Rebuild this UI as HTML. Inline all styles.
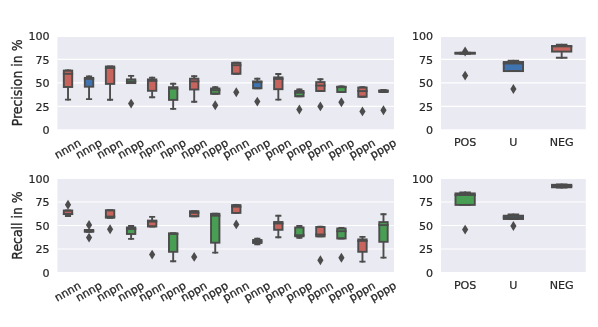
<!DOCTYPE html>
<html lang="en">
<head>
<meta charset="utf-8">
<title>Precision and Recall box plots</title>
<style>
html,body{margin:0;padding:0;background:#fff;}
body{width:598px;height:327px;overflow:hidden;}
svg{display:block;}
text{font-family:"DejaVu Sans","Liberation Sans",sans-serif;fill:#262626;stroke:#262626;stroke-width:0.2px;}
.r{stroke-width:0.3px;}
.t{font-size:11.11px;}
.l{font-size:12.5px;}
</style>
</head>
<body>
<svg width="598" height="327" viewBox="0 0 598 327">
<rect width="598" height="327" fill="#fff"/>
<g>
<rect x="57.5" y="36.5" width="336.5" height="93.4" fill="#EAEAF2"/>
<line x1="57.5" x2="394" y1="129.9" y2="129.9" stroke="#fff" stroke-width="1.11"/>
<text x="49.7" y="134.1" text-anchor="end" class="t">0</text>
<line x1="57.5" x2="394" y1="106.4" y2="106.4" stroke="#fff" stroke-width="1.11"/>
<text x="49.7" y="110.6" text-anchor="end" class="t">25</text>
<line x1="57.5" x2="394" y1="82.9" y2="82.9" stroke="#fff" stroke-width="1.11"/>
<text x="49.7" y="87.1" text-anchor="end" class="t">50</text>
<line x1="57.5" x2="394" y1="59.4" y2="59.4" stroke="#fff" stroke-width="1.11"/>
<text x="49.7" y="63.6" text-anchor="end" class="t">75</text>
<line x1="57.5" x2="394" y1="36.4" y2="36.4" stroke="#fff" stroke-width="1.11"/>
<text x="49.7" y="40.1" text-anchor="end" class="t">100</text>
<g fill="none" stroke="#4c4c4c" stroke-width="1.9" stroke-linecap="square"><path d="M68.02 70.6V70.4"/><path d="M68.02 87V99.6"/><rect x="63.81" y="70.6" width="8.41" height="16.4" fill="#c8645e" stroke-linejoin="miter"/><path d="M65.91 70.4H70.12M65.91 99.6H70.12"/><path d="M63.81 73.8H72.22"/></g>
<g fill="none" stroke="#4c4c4c" stroke-width="1.9" stroke-linecap="square"><path d="M89.05 77.9V76.4"/><path d="M89.05 86.7V99.1"/><rect x="84.84" y="77.9" width="8.41" height="8.8" fill="#3f74b0" stroke-linejoin="miter"/><path d="M86.94 76.4H91.15M86.94 99.1H91.15"/><path d="M84.84 78.9H93.25"/></g>
<g fill="none" stroke="#4c4c4c" stroke-width="1.9" stroke-linecap="square"><path d="M110.08 83.9V99.8"/><rect x="105.87" y="66.5" width="8.41" height="17.4" fill="#c8645e" stroke-linejoin="miter"/><path d="M107.97 66.5H112.18M107.97 99.8H112.18"/><path d="M105.87 68H114.28"/></g>
<g fill="none" stroke="#4c4c4c" stroke-width="1.9" stroke-linecap="square"><path d="M131.11 79.4V75.9"/><rect x="126.9" y="79.4" width="8.41" height="3.7" fill="#489e53" stroke-linejoin="miter"/><path d="M129.01 75.9H133.21M129.01 83.1H133.21"/><path d="M126.9 81.5H135.32"/></g>
<path d="M131.11 98.65L134.21 103.6L131.11 108.55L128.01 103.6Z" fill="#4c4c4c"/>
<g fill="none" stroke="#4c4c4c" stroke-width="1.9" stroke-linecap="square"><path d="M152.14 79.4V77.7"/><path d="M152.14 90.8V97.2"/><rect x="147.93" y="79.4" width="8.41" height="11.4" fill="#c8645e" stroke-linejoin="miter"/><path d="M150.04 77.7H154.24M150.04 97.2H154.24"/><path d="M147.93 80.9H156.35"/></g>
<g fill="none" stroke="#4c4c4c" stroke-width="1.9" stroke-linecap="square"><path d="M173.17 87.2V83.8"/><path d="M173.17 99.9V108.9"/><rect x="168.97" y="87.2" width="8.41" height="12.7" fill="#489e53" stroke-linejoin="miter"/><path d="M171.07 83.8H175.28M171.07 108.9H175.28"/><path d="M168.97 88.6H177.38"/></g>
<g fill="none" stroke="#4c4c4c" stroke-width="1.9" stroke-linecap="square"><path d="M194.2 78.7V76.2"/><path d="M194.2 89.5V101.8"/><rect x="190" y="78.7" width="8.41" height="10.8" fill="#c8645e" stroke-linejoin="miter"/><path d="M192.1 76.2H196.31M192.1 101.8H196.31"/><path d="M190 81.4H198.41"/></g>
<g fill="none" stroke="#4c4c4c" stroke-width="1.9" stroke-linecap="square"><path d="M215.23 88.5V87.1"/><rect x="211.03" y="88.5" width="8.41" height="5.3" fill="#489e53" stroke-linejoin="miter"/><path d="M213.13 87.1H217.34M213.13 93.8H217.34"/><path d="M211.03 90.2H219.44"/></g>
<path d="M215.23 100.25L218.33 105.2L215.23 110.15L212.13 105.2Z" fill="#4c4c4c"/>
<g fill="none" stroke="#4c4c4c" stroke-width="1.9" stroke-linecap="square"><rect x="232.06" y="62.8" width="8.41" height="11" fill="#c8645e" stroke-linejoin="miter"/><path d="M234.16 62.8H238.37M234.16 73.8H238.37"/><path d="M232.06 65.2H240.47"/></g>
<path d="M236.27 87.25L239.37 92.2L236.27 97.15L233.17 92.2Z" fill="#4c4c4c"/>
<g fill="none" stroke="#4c4c4c" stroke-width="1.9" stroke-linecap="square"><path d="M257.3 81.4V78.7"/><rect x="253.09" y="81.4" width="8.41" height="6.9" fill="#3f74b0" stroke-linejoin="miter"/><path d="M255.19 78.7H259.4M255.19 88.3H259.4"/><path d="M253.09 82.2H261.5"/></g>
<path d="M257.3 96.65L260.4 101.6L257.3 106.55L254.2 101.6Z" fill="#4c4c4c"/>
<g fill="none" stroke="#4c4c4c" stroke-width="1.9" stroke-linecap="square"><path d="M278.33 77.4V74.05"/><path d="M278.33 89.2V99.6"/><rect x="274.12" y="77.4" width="8.41" height="11.8" fill="#c8645e" stroke-linejoin="miter"/><path d="M276.23 74.05H280.43M276.23 99.6H280.43"/><path d="M274.12 78.9H282.53"/></g>
<g fill="none" stroke="#4c4c4c" stroke-width="1.9" stroke-linecap="square"><path d="M299.36 91V89.5"/><rect x="295.15" y="91" width="8.41" height="5.3" fill="#489e53" stroke-linejoin="miter"/><path d="M297.26 89.5H301.46M297.26 96.3H301.46"/><path d="M295.15 92.7H303.57"/></g>
<path d="M299.36 104.55L302.46 109.5L299.36 114.45L296.26 109.5Z" fill="#4c4c4c"/>
<g fill="none" stroke="#4c4c4c" stroke-width="1.9" stroke-linecap="square"><path d="M320.39 82.1V79.2"/><rect x="316.18" y="82.1" width="8.41" height="8.9" fill="#c8645e" stroke-linejoin="miter"/><path d="M318.29 79.2H322.49M318.29 91H322.49"/><path d="M316.18 85.6H324.6"/></g>
<path d="M320.39 101.45L323.49 106.4L320.39 111.35L317.29 106.4Z" fill="#4c4c4c"/>
<g fill="none" stroke="#4c4c4c" stroke-width="1.9" stroke-linecap="square"><path d="M341.42 86.7V86.4"/><rect x="337.22" y="86.7" width="8.41" height="5.3" fill="#489e53" stroke-linejoin="miter"/><path d="M339.32 86.4H343.52M339.32 92H343.52"/><path d="M337.22 87.2H345.63"/></g>
<path d="M341.42 97.35L344.52 102.3L341.42 107.25L338.32 102.3Z" fill="#4c4c4c"/>
<g fill="none" stroke="#4c4c4c" stroke-width="1.9" stroke-linecap="square"><path d="M362.45 87.5V87.2"/><rect x="358.25" y="87.5" width="8.41" height="9.3" fill="#c8645e" stroke-linejoin="miter"/><path d="M360.35 87.2H364.56M360.35 96.8H364.56"/><path d="M358.25 91.1H366.66"/></g>
<path d="M362.45 106.45L365.55 111.4L362.45 116.35L359.35 111.4Z" fill="#4c4c4c"/>
<g fill="none" stroke="#4c4c4c" stroke-width="1.9" stroke-linecap="square"><path d="M383.48 90.4V90"/><rect x="379.28" y="90.4" width="8.41" height="1.6" fill="#489e53" stroke-linejoin="miter"/><path d="M381.38 90H385.59M381.38 92H385.59"/><path d="M379.28 91H387.69"/></g>
<path d="M383.48 105.25L386.58 110.2L383.48 115.15L380.38 110.2Z" fill="#4c4c4c"/>
<text transform="translate(68.02,149.4) rotate(-30)" y="3.07" text-anchor="middle" class="t r">nnnn</text>
<text transform="translate(89.05,149.4) rotate(-30)" y="3.07" text-anchor="middle" class="t r">nnnp</text>
<text transform="translate(110.08,149.4) rotate(-30)" y="3.07" text-anchor="middle" class="t r">nnpn</text>
<text transform="translate(131.11,149.4) rotate(-30)" y="3.07" text-anchor="middle" class="t r">nnpp</text>
<text transform="translate(152.14,149.4) rotate(-30)" y="3.07" text-anchor="middle" class="t r">npnn</text>
<text transform="translate(173.17,149.4) rotate(-30)" y="3.07" text-anchor="middle" class="t r">npnp</text>
<text transform="translate(194.2,149.4) rotate(-30)" y="3.07" text-anchor="middle" class="t r">nppn</text>
<text transform="translate(215.23,149.4) rotate(-30)" y="3.07" text-anchor="middle" class="t r">nppp</text>
<text transform="translate(236.27,149.4) rotate(-30)" y="3.07" text-anchor="middle" class="t r">pnnn</text>
<text transform="translate(257.3,149.4) rotate(-30)" y="3.07" text-anchor="middle" class="t r">pnnp</text>
<text transform="translate(278.33,149.4) rotate(-30)" y="3.07" text-anchor="middle" class="t r">pnpn</text>
<text transform="translate(299.36,149.4) rotate(-30)" y="3.07" text-anchor="middle" class="t r">pnpp</text>
<text transform="translate(320.39,149.4) rotate(-30)" y="3.07" text-anchor="middle" class="t r">ppnn</text>
<text transform="translate(341.42,149.4) rotate(-30)" y="3.07" text-anchor="middle" class="t r">ppnp</text>
<text transform="translate(362.45,149.4) rotate(-30)" y="3.07" text-anchor="middle" class="t r">pppn</text>
<text transform="translate(383.48,149.4) rotate(-30)" y="3.07" text-anchor="middle" class="t r">pppp</text>
<text transform="translate(21.9,82.9) rotate(-90) scale(1,1.06)" text-anchor="middle" class="l r">Precision in %</text>
</g>
<g>
<rect x="441" y="36.5" width="144.8" height="93.4" fill="#EAEAF2"/>
<line x1="441" x2="585.8" y1="129.9" y2="129.9" stroke="#fff" stroke-width="1.11"/>
<text x="433.2" y="134.1" text-anchor="end" class="t">0</text>
<line x1="441" x2="585.8" y1="106.4" y2="106.4" stroke="#fff" stroke-width="1.11"/>
<text x="433.2" y="110.6" text-anchor="end" class="t">25</text>
<line x1="441" x2="585.8" y1="82.9" y2="82.9" stroke="#fff" stroke-width="1.11"/>
<text x="433.2" y="87.1" text-anchor="end" class="t">50</text>
<line x1="441" x2="585.8" y1="59.4" y2="59.4" stroke="#fff" stroke-width="1.11"/>
<text x="433.2" y="63.6" text-anchor="end" class="t">75</text>
<line x1="441" x2="585.8" y1="36.4" y2="36.4" stroke="#fff" stroke-width="1.11"/>
<text x="433.2" y="40.1" text-anchor="end" class="t">100</text>
<g fill="none" stroke="#4c4c4c" stroke-width="1.9" stroke-linecap="square"><rect x="455.48" y="52.7" width="19.31" height="1" fill="#489e53" stroke-linejoin="miter"/><path d="M460.31 52.7H469.96M460.31 53.7H469.96"/><path d="M455.48 53.2H474.79"/></g>
<path d="M465.13 46.55L468.23 51.5L465.13 56.45L462.03 51.5Z" fill="#4c4c4c"/>
<path d="M465.13 70.65L468.23 75.6L465.13 80.55L462.03 75.6Z" fill="#4c4c4c"/>
<g fill="none" stroke="#4c4c4c" stroke-width="1.9" stroke-linecap="square"><path d="M513.4 62V60.8"/><rect x="503.75" y="62" width="19.31" height="9.1" fill="#3f74b0" stroke-linejoin="miter"/><path d="M508.57 60.8H518.23M508.57 71.1H518.23"/><path d="M503.75 63.5H523.05"/></g>
<path d="M513.4 84.01L516.5 88.96L513.4 93.91L510.3 88.96Z" fill="#4c4c4c"/>
<g fill="none" stroke="#4c4c4c" stroke-width="1.9" stroke-linecap="square"><path d="M561.67 46V44.8"/><path d="M561.67 51.6V57.8"/><rect x="552.01" y="46" width="19.31" height="5.6" fill="#c8645e" stroke-linejoin="miter"/><path d="M556.84 44.8H566.49M556.84 57.8H566.49"/><path d="M552.01 46.4H571.32"/></g>
<text x="465.13" y="146.35" text-anchor="middle" class="t">POS</text>
<text x="513.4" y="146.35" text-anchor="middle" class="t">U</text>
<text x="561.67" y="146.35" text-anchor="middle" class="t">NEG</text>
</g>
<g>
<rect x="57.5" y="178.5" width="336.5" height="94" fill="#EAEAF2"/>
<line x1="57.5" x2="394" y1="272.5" y2="272.5" stroke="#fff" stroke-width="1.11"/>
<text x="49.7" y="276.5" text-anchor="end" class="t">0</text>
<line x1="57.5" x2="394" y1="249" y2="249" stroke="#fff" stroke-width="1.11"/>
<text x="49.7" y="253" text-anchor="end" class="t">25</text>
<line x1="57.5" x2="394" y1="225.5" y2="225.5" stroke="#fff" stroke-width="1.11"/>
<text x="49.7" y="229.5" text-anchor="end" class="t">50</text>
<line x1="57.5" x2="394" y1="202" y2="202" stroke="#fff" stroke-width="1.11"/>
<text x="49.7" y="206" text-anchor="end" class="t">75</text>
<line x1="57.5" x2="394" y1="178.5" y2="178.5" stroke="#fff" stroke-width="1.11"/>
<text x="49.7" y="182.5" text-anchor="end" class="t">100</text>
<g fill="none" stroke="#4c4c4c" stroke-width="1.9" stroke-linecap="square"><path d="M68.02 214.1V216"/><rect x="63.81" y="210.5" width="8.41" height="3.6" fill="#c8645e" stroke-linejoin="miter"/><path d="M65.91 210.5H70.12M65.91 216H70.12"/><path d="M63.81 213.9H72.22"/></g>
<path d="M68.02 199.75L71.12 204.7L68.02 209.65L64.92 204.7Z" fill="#4c4c4c"/>
<g fill="none" stroke="#4c4c4c" stroke-width="1.9" stroke-linecap="square"><rect x="84.84" y="230" width="8.41" height="1.8" fill="#3f74b0" stroke-linejoin="miter"/><path d="M86.94 230H91.15M86.94 231.8H91.15"/><path d="M84.84 230.9H93.25"/></g>
<path d="M89.05 220.05L92.15 225L89.05 229.95L85.95 225Z" fill="#4c4c4c"/>
<path d="M89.05 232.65L92.15 237.6L89.05 242.55L85.95 237.6Z" fill="#4c4c4c"/>
<g fill="none" stroke="#4c4c4c" stroke-width="1.9" stroke-linecap="square"><rect x="105.87" y="210.2" width="8.41" height="7.5" fill="#c8645e" stroke-linejoin="miter"/><path d="M107.97 210.2H112.18M107.97 217.7H112.18"/><path d="M105.87 216.6H114.28"/></g>
<path d="M110.08 224.35L113.18 229.3L110.08 234.25L106.98 229.3Z" fill="#4c4c4c"/>
<g fill="none" stroke="#4c4c4c" stroke-width="1.9" stroke-linecap="square"><path d="M131.11 227.5V226"/><path d="M131.11 234V238.9"/><rect x="126.9" y="227.5" width="8.41" height="6.5" fill="#489e53" stroke-linejoin="miter"/><path d="M129.01 226H133.21M129.01 238.9H133.21"/><path d="M126.9 229H135.32"/></g>
<g fill="none" stroke="#4c4c4c" stroke-width="1.9" stroke-linecap="square"><path d="M152.14 220.6V216.9"/><rect x="147.93" y="220.6" width="8.41" height="5.9" fill="#c8645e" stroke-linejoin="miter"/><path d="M150.04 216.9H154.24M150.04 226.5H154.24"/><path d="M147.93 221.6H156.35"/></g>
<path d="M152.14 249.65L155.24 254.6L152.14 259.55L149.04 254.6Z" fill="#4c4c4c"/>
<g fill="none" stroke="#4c4c4c" stroke-width="1.9" stroke-linecap="square"><path d="M173.17 251.8V261.2"/><rect x="168.97" y="233.3" width="8.41" height="18.5" fill="#489e53" stroke-linejoin="miter"/><path d="M171.07 233.3H175.28M171.07 261.2H175.28"/><path d="M168.97 234H177.38"/></g>
<g fill="none" stroke="#4c4c4c" stroke-width="1.9" stroke-linecap="square"><rect x="190" y="211.2" width="8.41" height="5.1" fill="#c8645e" stroke-linejoin="miter"/><path d="M192.1 211.2H196.31M192.1 216.3H196.31"/><path d="M190 212.8H198.41"/></g>
<path d="M194.2 251.95L197.3 256.9L194.2 261.85L191.1 256.9Z" fill="#4c4c4c"/>
<g fill="none" stroke="#4c4c4c" stroke-width="1.9" stroke-linecap="square"><path d="M215.23 242.7V252.6"/><rect x="211.03" y="213.8" width="8.41" height="28.9" fill="#489e53" stroke-linejoin="miter"/><path d="M213.13 213.8H217.34M213.13 252.6H217.34"/><path d="M211.03 215.7H219.44"/></g>
<g fill="none" stroke="#4c4c4c" stroke-width="1.9" stroke-linecap="square"><path d="M236.27 205.1V204.9"/><rect x="232.06" y="205.1" width="8.41" height="7.8" fill="#c8645e" stroke-linejoin="miter"/><path d="M234.16 204.9H238.37M234.16 212.9H238.37"/><path d="M232.06 206.7H240.47"/></g>
<path d="M236.27 219.45L239.37 224.4L236.27 229.35L233.17 224.4Z" fill="#4c4c4c"/>
<g fill="none" stroke="#4c4c4c" stroke-width="1.9" stroke-linecap="square"><path d="M257.3 240V238.7"/><path d="M257.3 243V244.2"/><rect x="253.09" y="240" width="8.41" height="3" fill="#3f74b0" stroke-linejoin="miter"/><path d="M255.19 238.7H259.4M255.19 244.2H259.4"/><path d="M253.09 241.5H261.5"/></g>
<g fill="none" stroke="#4c4c4c" stroke-width="1.9" stroke-linecap="square"><path d="M278.33 222V215.8"/><path d="M278.33 229.8V237.3"/><rect x="274.12" y="222" width="8.41" height="7.8" fill="#c8645e" stroke-linejoin="miter"/><path d="M276.23 215.8H280.43M276.23 237.3H280.43"/><path d="M274.12 223.5H282.53"/></g>
<g fill="none" stroke="#4c4c4c" stroke-width="1.9" stroke-linecap="square"><path d="M299.36 227.5V225.95"/><path d="M299.36 236.3V237.8"/><rect x="295.15" y="227.5" width="8.41" height="8.8" fill="#489e53" stroke-linejoin="miter"/><path d="M297.26 225.95H301.46M297.26 237.8H301.46"/><path d="M295.15 235.2H303.57"/></g>
<g fill="none" stroke="#4c4c4c" stroke-width="1.9" stroke-linecap="square"><path d="M320.39 227V226.8"/><rect x="316.18" y="227" width="8.41" height="9.4" fill="#c8645e" stroke-linejoin="miter"/><path d="M318.29 226.8H322.49M318.29 236.4H322.49"/><path d="M316.18 234.5H324.6"/></g>
<path d="M320.39 255.35L323.49 260.3L320.39 265.25L317.29 260.3Z" fill="#4c4c4c"/>
<g fill="none" stroke="#4c4c4c" stroke-width="1.9" stroke-linecap="square"><path d="M341.42 228.5V228"/><rect x="337.22" y="228.5" width="8.41" height="10" fill="#489e53" stroke-linejoin="miter"/><path d="M339.32 228H343.52M339.32 238.5H343.52"/><path d="M337.22 231.2H345.63"/></g>
<path d="M341.42 252.75L344.52 257.7L341.42 262.65L338.32 257.7Z" fill="#4c4c4c"/>
<g fill="none" stroke="#4c4c4c" stroke-width="1.9" stroke-linecap="square"><path d="M362.45 239.4V236.9"/><path d="M362.45 251.8V261.65"/><rect x="358.25" y="239.4" width="8.41" height="12.4" fill="#c8645e" stroke-linejoin="miter"/><path d="M360.35 236.9H364.56M360.35 261.65H364.56"/><path d="M358.25 240.9H366.66"/></g>
<g fill="none" stroke="#4c4c4c" stroke-width="1.9" stroke-linecap="square"><path d="M383.48 222.1V214.25"/><path d="M383.48 241.8V257.6"/><rect x="379.28" y="222.1" width="8.41" height="19.7" fill="#489e53" stroke-linejoin="miter"/><path d="M381.38 214.25H385.59M381.38 257.6H385.59"/><path d="M379.28 225.1H387.69"/></g>
<text transform="translate(68.02,292) rotate(-30)" y="3.07" text-anchor="middle" class="t r">nnnn</text>
<text transform="translate(89.05,292) rotate(-30)" y="3.07" text-anchor="middle" class="t r">nnnp</text>
<text transform="translate(110.08,292) rotate(-30)" y="3.07" text-anchor="middle" class="t r">nnpn</text>
<text transform="translate(131.11,292) rotate(-30)" y="3.07" text-anchor="middle" class="t r">nnpp</text>
<text transform="translate(152.14,292) rotate(-30)" y="3.07" text-anchor="middle" class="t r">npnn</text>
<text transform="translate(173.17,292) rotate(-30)" y="3.07" text-anchor="middle" class="t r">npnp</text>
<text transform="translate(194.2,292) rotate(-30)" y="3.07" text-anchor="middle" class="t r">nppn</text>
<text transform="translate(215.23,292) rotate(-30)" y="3.07" text-anchor="middle" class="t r">nppp</text>
<text transform="translate(236.27,292) rotate(-30)" y="3.07" text-anchor="middle" class="t r">pnnn</text>
<text transform="translate(257.3,292) rotate(-30)" y="3.07" text-anchor="middle" class="t r">pnnp</text>
<text transform="translate(278.33,292) rotate(-30)" y="3.07" text-anchor="middle" class="t r">pnpn</text>
<text transform="translate(299.36,292) rotate(-30)" y="3.07" text-anchor="middle" class="t r">pnpp</text>
<text transform="translate(320.39,292) rotate(-30)" y="3.07" text-anchor="middle" class="t r">ppnn</text>
<text transform="translate(341.42,292) rotate(-30)" y="3.07" text-anchor="middle" class="t r">ppnp</text>
<text transform="translate(362.45,292) rotate(-30)" y="3.07" text-anchor="middle" class="t r">pppn</text>
<text transform="translate(383.48,292) rotate(-30)" y="3.07" text-anchor="middle" class="t r">pppp</text>
<text transform="translate(21.9,225.5) rotate(-90) scale(1,1.06)" text-anchor="middle" class="l r">Recall in %</text>
</g>
<g>
<rect x="441" y="178.5" width="144.8" height="94" fill="#EAEAF2"/>
<line x1="441" x2="585.8" y1="272.5" y2="272.5" stroke="#fff" stroke-width="1.11"/>
<text x="433.2" y="276.5" text-anchor="end" class="t">0</text>
<line x1="441" x2="585.8" y1="249" y2="249" stroke="#fff" stroke-width="1.11"/>
<text x="433.2" y="253" text-anchor="end" class="t">25</text>
<line x1="441" x2="585.8" y1="225.5" y2="225.5" stroke="#fff" stroke-width="1.11"/>
<text x="433.2" y="229.5" text-anchor="end" class="t">50</text>
<line x1="441" x2="585.8" y1="202" y2="202" stroke="#fff" stroke-width="1.11"/>
<text x="433.2" y="206" text-anchor="end" class="t">75</text>
<line x1="441" x2="585.8" y1="178.5" y2="178.5" stroke="#fff" stroke-width="1.11"/>
<text x="433.2" y="182.5" text-anchor="end" class="t">100</text>
<g fill="none" stroke="#4c4c4c" stroke-width="1.9" stroke-linecap="square"><path d="M465.13 193.4V192.4"/><rect x="455.48" y="193.4" width="19.31" height="11.5" fill="#489e53" stroke-linejoin="miter"/><path d="M460.31 192.4H469.96M460.31 204.9H469.96"/><path d="M455.48 195H474.79"/></g>
<path d="M465.13 224.65L468.23 229.6L465.13 234.55L462.03 229.6Z" fill="#4c4c4c"/>
<g fill="none" stroke="#4c4c4c" stroke-width="1.9" stroke-linecap="square"><path d="M513.4 215.7V214.5"/><rect x="503.75" y="215.7" width="19.31" height="3.3" fill="#3f74b0" stroke-linejoin="miter"/><path d="M508.57 214.5H518.23M508.57 219H518.23"/><path d="M503.75 217.3H523.05"/></g>
<path d="M513.4 221.05L516.5 226L513.4 230.95L510.3 226Z" fill="#4c4c4c"/>
<g fill="none" stroke="#4c4c4c" stroke-width="1.9" stroke-linecap="square"><path d="M561.67 184.8V184.5"/><path d="M561.67 187.3V187.6"/><rect x="552.01" y="184.8" width="19.31" height="2.5" fill="#c8645e" stroke-linejoin="miter"/><path d="M556.84 184.5H566.49M556.84 187.6H566.49"/><path d="M552.01 186H571.32"/></g>
<text x="465.13" y="288.95" text-anchor="middle" class="t">POS</text>
<text x="513.4" y="288.95" text-anchor="middle" class="t">U</text>
<text x="561.67" y="288.95" text-anchor="middle" class="t">NEG</text>
</g>
</svg>
</body>
</html>
